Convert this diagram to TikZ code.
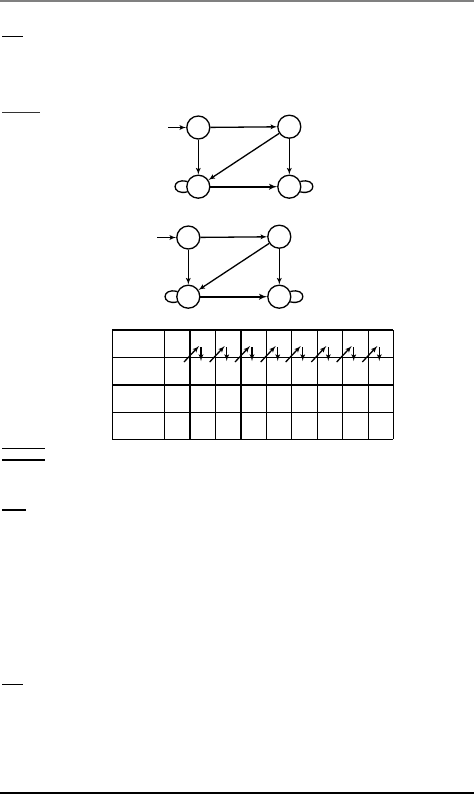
\documentclass[tikz,border=0pt]{standalone}
\usepackage{tikz}
\usetikzlibrary{shapes,arrows}
\tikzstyle{state} = [circle, draw, line width=1.3pt, minimum size=23pt, inner sep=0pt]
\tikzstyle{line} = [draw, line width=1.3pt, -latex']
\tikzstyle{thick line} = [draw, line width=1.8pt, -latex']
\tikzstyle{selfloop} = [draw, line width=1.3pt]
\tikzstyle{rule} = [draw, line width=1.2pt]
\tikzstyle{grid} = [draw, line width=1.4pt]
\tikzstyle{mark arrow} = [draw, line width=1.3pt, -latex']

\begin{document}
\begin{tikzpicture}[x=1pt,y=-1pt]
\useasboundingbox (0,0) rectangle (474,795);
% page rules
\path [draw, gray, line width=2pt] (0,1) -- (474,1);
\path [draw, line width=2pt] (0,793) -- (474,793);
\path [rule] (2,36.5) -- (23,36.5);
\path [draw, line width=0.9pt, black!80] (2,112) -- (40,112);
\path [rule] (2,448.3) -- (45,448.3);
\path [rule] (2,460) -- (45,460);
\path [rule] (2,510) -- (26,510);
\path [rule] (2,684.5) -- (23,684.5);

% first automaton
\node [state] (a-init) at (198.3,127.5) {};
\node [state] (a-right) at (289.3,126.7) {};
\node [state] (a-low) at (198.3,186.7) {};
\node [state] (a-final) at (289.3,186.7) {};
\coordinate (a-start) at (168,127.5);
\path [line] (a-start) -- (a-init);
\path [line] (a-init) -- (a-right);
\path [line] (a-init) -- (a-low);
\path [line] (a-right) -- (a-low);
\path [line] (a-right) -- (a-final);
\path [thick line] (a-low) -- (a-final);
\path [selfloop] (a-low.155) .. controls (171,177) and (171,196) .. (a-low.205);
\path [selfloop] (a-final.25) .. controls (317,177) and (317,196) .. (a-final.-25);

% second automaton
\node [state] (b-init) at (188.3,237.5) {};
\node [state] (b-right) at (279.3,236.7) {};
\node [state] (b-low) at (188.3,296.7) {};
\node [state] (b-final) at (279.3,296.7) {};
\coordinate (b-start) at (157,237.5);
\path [line] (b-start) -- (b-init);
\path [line] (b-init) -- (b-right);
\path [line] (b-init) -- (b-low);
\path [line] (b-right) -- (b-low);
\path [line] (b-right) -- (b-final);
\path [thick line] (b-low) -- (b-final);
\path [selfloop] (b-low.155) .. controls (161,287) and (161,306) .. (b-low.205);
\path [selfloop] (b-final.25) .. controls (307,287) and (307,306) .. (b-final.-25);

% table
\foreach \y in {330,357.3,385,412.3,439.3}
  \path [grid] (112.3,\y) -- (393.3,\y);
\foreach \x in {112.3,164.3,190,215.7,241,266.7,291.7,317.3,342.7,368.3,393.3}
  \path [grid] (\x,330) -- (\x,439.3);
\foreach \x in {190,215.7,241,266.7,291.7,317.3,342.7,368.3} {
  \path [mark arrow] (\x-6,362) -- (\x+9,346);
  \path [mark arrow] (\x+11,347) -- (\x+11,361);
}
\end{tikzpicture}
\end{document}
